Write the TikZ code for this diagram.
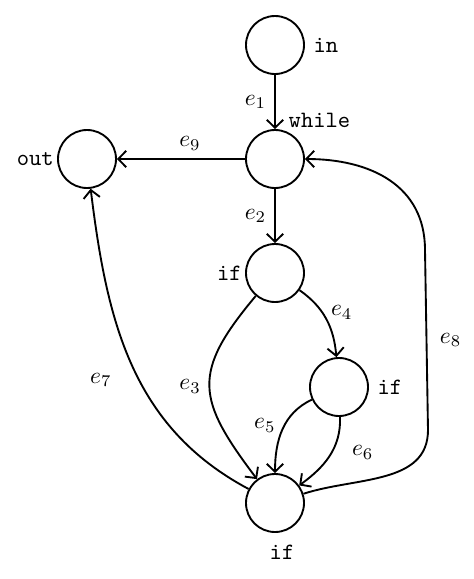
\documentclass[tikz,border=0pt]{standalone}
\usetikzlibrary{arrows.meta}
\begin{document}
\begin{tikzpicture}[thick,
    state/.style={draw,circle,minimum size=0.87cm,inner sep=0pt},
    tag/.style={font=\ttfamily},
    >={Straight Barb[length=3.4pt,width=7pt]}]
            \useasboundingbox (0,0) rectangle (7.11,-8.685);
            % blocks
            \node[state] (in) at (4.125,-0.675) {};
            \node[state] (while) at (4.125,-2.385) {};
            \node[state] (out) at (1.305,-2.385) {};
            \node[state] (ifa) at (4.125,-4.095) {};
            \node[state] (ifb) at (5.085,-5.805) {};
            \node[state] (ifc) at (4.125,-7.545) {};
            % tags
            \node[tag,anchor=west] at (in.east) {in};
            \node[tag,anchor=south west] at (4.2,-2.05) {while};
            \node[tag,anchor=east,inner sep=1pt] at (out.west) {out};
            \node[tag,anchor=east,inner sep=1pt] at (ifa.west) {if};
            \node[tag,anchor=west] at (ifb.east) {if};
            \node[tag,anchor=north] at ([xshift=3pt,yshift=-1.5pt]ifc.south) {if};
            % bends of e8
            \coordinate (r1) at (6.42,-6.45);
            \coordinate (r2) at (6.375,-3.75);
            % edges
            \draw[->] (in) -- node[left] {$e_1$} (while);
            \draw[->] (while) -- node[above,pos=0.43] {$e_9$} (out);
            \draw[->] (while) -- node[left] {$e_2$} (ifa);
            \draw[->] (ifa) to[out=-35,in=95] node[right,pos=0.4] {$e_4$} (ifb);
            \draw[->] (ifa) to[out=230,in=127,looseness=1.4] node[left] {$e_3$} (ifc);
            \draw[->] (ifb) to[out=205,in=90] node[left,pos=0.45] {$e_5$} (ifc);
            \draw[->] (ifb) to[out=-88,in=36] node[right=5pt,pos=0.45] {$e_6$} (ifc);
            \draw[->] (ifc) to[out=152,in=-83] node[left=8pt,pos=0.45] {$e_7$} (out);
            \draw[->] (ifc) to[out=18,in=-90] (r1) -- node[right=2pt] {$e_8$} (r2) to[out=90,in=0,looseness=1.1] (while);
        \end{tikzpicture}
\end{document}
